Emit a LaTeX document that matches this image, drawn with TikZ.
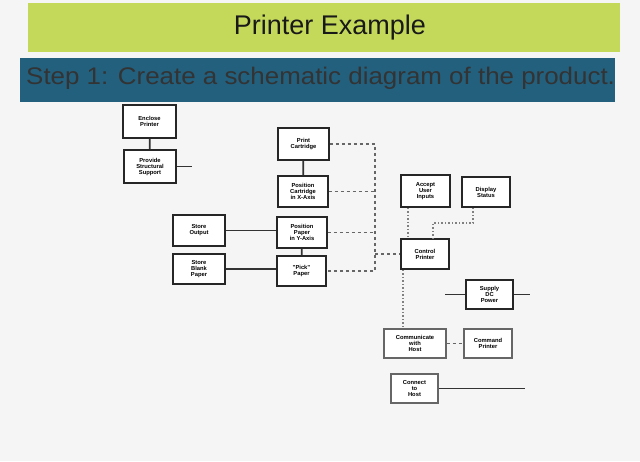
\documentclass[tikz,border=0pt]{standalone}
\usepackage{fontspec}
\setmainfont{Liberation Sans}
\definecolor{stepblue}{HTML}{22607E}
\definecolor{titlegreen}{HTML}{C4D85A}
\begin{document}
\begin{tikzpicture}[x=1pt,y=-1pt,
  bx/.style={draw=black!85,line width=1.6pt,fill=white,align=center,font=\fontsize{5.8}{6}\selectfont\bfseries,inner sep=1pt},
  sol/.style={draw=black!80,line width=1.7pt},
  dsh/.style={draw=black!60,line width=1.5pt,dash pattern=on 3pt off 3pt},
  dot/.style={draw=black!50,line width=1.5pt,dash pattern=on 1.5pt off 2pt}]
\useasboundingbox[fill=gray!8] (0,0) rectangle (640,461);
\fill[titlegreen] (28,3) rectangle (620,52);
\node (title) at (330,28) {\fontsize{27}{30}\selectfont\color{black!90} Printer Example};
\fill[stepblue] (20,58) rectangle (615,102);
\node[anchor=west,inner sep=0pt,xscale=1.08] (step) at (26,78) {\fontsize{24}{27}\selectfont\color{black!80} Step 1: Create a schematic diagram of the product.};
% boxes
\node[bx,minimum width=53,minimum height=33] (enc) at (149.5,121.5) {Enclose\\Printer};
\node[bx,minimum width=52,minimum height=33] (prov) at (150,166.5) {Provide\\Structural\\Support};
\node[bx,minimum width=51,minimum height=32] (pc) at (303.5,144) {Print\\Cartridge};
\node[bx,minimum width=50,minimum height=31] (pcx) at (303,191.5) {Position\\Cartridge\\in X-Axis};
\node[bx,minimum width=50,minimum height=31] (pp) at (302,232.5) {Position\\Paper\\in Y-Axis};
\node[bx,minimum width=49,minimum height=30] (pick) at (301.5,271) {"Pick"\\Paper};
\node[bx,minimum width=52,minimum height=31] (so) at (199,230.5) {Store\\Output};
\node[bx,minimum width=52,minimum height=30] (sb) at (199,269) {Store\\Blank\\Paper};
\node[bx,minimum width=49,minimum height=32] (aui) at (425.5,191) {Accept\\User\\Inputs};
\node[bx,minimum width=48,minimum height=30] (ds) at (486,192) {Display\\Status};
\node[bx,minimum width=48,minimum height=30] (cp) at (425,254) {Control\\Printer};
\node[bx,minimum width=47,minimum height=29] (dc) at (489.5,294.5) {Supply\\DC\\Power};
\node[bx,minimum width=62,minimum height=29,draw=black!60] (com) at (415,343.5) {Communicate\\with\\Host};
\node[bx,minimum width=48,minimum height=29,draw=black!60] (cmd) at (488,343.5) {Command\\Printer};
\node[bx,minimum width=47,minimum height=29,draw=black!60] (con) at (414.5,388.5) {Connect\\to\\Host};
\coordinate (provE) at (192,166.5);
\coordinate (dcW) at (445,294.5);
\coordinate (dcE) at (530,294.5);
\coordinate (conE) at (525,388.5);
\coordinate (bt) at (375,144);
\coordinate (bb) at (375,271);
\coordinate (dsd) at (473,223);
\coordinate (dsl) at (433,223);
% solid
\draw[sol] (enc) -- (prov);
\draw[sol] (prov.east) -- (provE);
\draw[sol] (pc) -- (pcx);
\draw[sol] (pp) -- (pick);
\draw[sol] (so.east) -- (so.east -| pp.west);
\draw[sol] (sb.east) -- (sb.east -| pick.west);
\draw[sol] (dcW) -- (dc.west) (dc.east) -- (dcE);
\draw[sol,line width=1.2pt] (con.east) -- (conE);
% dashed bus
\draw[dsh] (pc.east) -- (bt) -- (bb) -- (pick.east);
\draw[dsh] (pcx.east) -- (pcx.east -| bt);
\draw[dsh] (pp.east) -- (pp.east -| bt);
\draw[dsh] (cp.west -| bt) -- (cp.west);
\draw[dsh] (com.east) -- (cmd.west);
% dotted
\draw[dot] (aui.south -| 408,0) -- (cp.north -| 408,0);
\draw[dot] (ds.south -| dsd) -- (dsd) -- (dsl) -- (cp.north -| dsl);
\draw[dot] (cp.south -| 403,0) -- (com.north -| 403,0);
\end{tikzpicture}
\end{document}
